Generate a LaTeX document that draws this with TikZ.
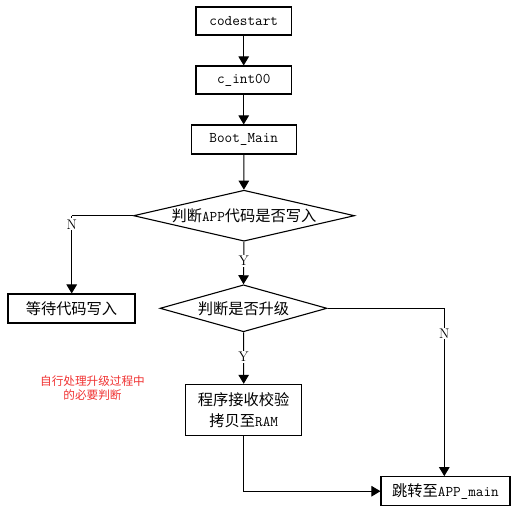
\documentclass[tikz,border=0pt]{standalone}
\usepackage{fontspec}
\newfontfamily\cjk{Noto Sans CJK SC}[Scale=1.03]
\usetikzlibrary{shapes.geometric,arrows.meta}
\definecolor{notered}{RGB}{240,50,50}
\begin{document}
\begin{tikzpicture}[x=1pt,y=-1pt,
  box/.style={draw,line width=1.1pt,rectangle,inner sep=0pt,align=center,
    font=\fontsize{14.8}{17}\selectfont\ttfamily},
  dec/.style={draw,line width=1.1pt,diamond,inner sep=0pt,
    font=\fontsize{14.8}{17}\selectfont\ttfamily},
  conn/.style={line width=1pt},
  arr/.style={line width=1pt,-{Triangle[width=10.5pt,length=9pt]}},
  lab/.style={fill=white,inner sep=1pt,font=\fontsize{14}{16}\selectfont\rmfamily}]
\useasboundingbox (0,0) rectangle (512,515);
\node[box,minimum width=95.5pt,minimum height=28pt] (cs) at (243.7,21) {codestart};
\node[box,minimum width=95.5pt,minimum height=28pt] (ci) at (243.7,80) {c\_int00};
\node[box,minimum width=105pt,minimum height=29pt] (bm) at (243.7,139.5) {Boot\_Main};
\node[dec,minimum width=221pt,minimum height=51pt,aspect=4.3] (d1) at (244,215.7) {{\cjk 判断}APP{\cjk 代码是否写入}};
\node[box,minimum width=127pt,minimum height=29pt] (wait) at (71.5,308.5) {\cjk 等待代码写入};
\node[dec,minimum width=167pt,minimum height=47pt,aspect=3.55] (d2) at (243.5,308.3) {\cjk 判断是否升级};
\node[box,minimum width=116pt,minimum height=50.7pt,font=\fontsize{14.8}{21}\selectfont\ttfamily] (prog) at (243.7,409.7) {{\cjk 程序接收校验}\\{\cjk 拷贝至}RAM};
\node[box,minimum width=129pt,minimum height=29pt] (jump) at (445.5,491.2) {{\cjk 跳转至}APP\_main};
\node[text=notered,align=center,inner sep=0pt,font=\fontsize{11.3}{14.5}\selectfont\cjk] (note) at (92.5,388) {自行处理升级过程中\\的必要判断};
\coordinate (cL) at (71.7,215.7);
\coordinate (cR) at (444.3,308.3);
\draw[arr] (cs) -- (ci);
\draw[arr] (ci) -- (bm);
\draw[arr] (bm) -- (d1);
\draw[conn] (d1.west) -- (cL);
\draw[arr] (cL) -- node[lab,pos=0.11] {N} (cL |- wait.north);
\draw[arr] (d1.south) -- node[lab,pos=0.45] {Y} (d2.north);
\draw[conn] (d2.east) -- (cR);
\draw[arr] (cR) -- node[lab,pos=0.15] {N} (cR |- jump.north);
\draw[arr] (d2.south) -- node[lab,pos=0.48] {Y} (prog.north);
\draw[arr] (prog.south) |- (jump.west);
\end{tikzpicture}
\end{document}
